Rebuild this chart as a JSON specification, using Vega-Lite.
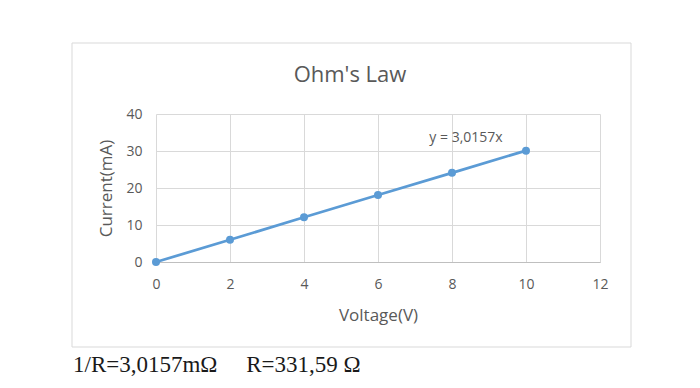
{
  "$schema": "https://vega.github.io/schema/vega-lite/v6.json",
  "width": 444,
  "height": 148,
  "autosize": "none",
  "padding": {"left": 156, "top": 114, "right": 100, "bottom": 126},
  "background": "white",
  "config": {"view": {"stroke": null}, "font": "Open Sans"},
  "title": {
    "text": "Ohm's Law",
    "font": "Open Sans",
    "fontSize": 22,
    "fontWeight": "normal",
    "color": "#595959",
    "anchor": "middle",
    "frame": "group",
    "dx": -28,
    "offset": -44
  },
  "layer": [
    {
      "data": {"values": [{"frame": "chart area"}]},
      "mark": {"type": "rect", "filled": false, "stroke": "#d9d9d9", "strokeWidth": 1, "clip": false},
      "encoding": {
        "x": {"value": -84},
        "x2": {"value": 475},
        "y": {"value": -71},
        "y2": {"value": 233}
      }
    },
    {
      "data": {
        "values": [
          {"voltage": 0, "current": 0},
          {"voltage": 2, "current": 6.0},
          {"voltage": 4, "current": 12.1},
          {"voltage": 6, "current": 18.1},
          {"voltage": 8, "current": 24.1},
          {"voltage": 10, "current": 30.1}
        ]
      },
      "mark": {
        "type": "line",
        "color": "#5b9bd5",
        "strokeWidth": 2.75,
        "point": {"filled": true, "size": 64, "color": "#5b9bd5"}
      },
      "encoding": {
        "x": {
          "field": "voltage",
          "type": "quantitative",
          "scale": {"domain": [0, 12], "nice": false},
          "axis": {
            "title": "Voltage(V)",
            "values": [0, 2, 4, 6, 8, 10, 12],
            "format": "d",
            "grid": true,
            "gridColor": "#d9d9d9",
            "domainColor": "#bfbfbf",
            "ticks": false,
            "labelFlush": false,
            "labelColor": "#595959",
            "labelFontSize": 14,
            "labelFont": "Open Sans",
            "labelPadding": 15,
            "titleColor": "#595959",
            "titleFontSize": 17,
            "titleFont": "Open Sans",
            "titleFontWeight": "normal",
            "titlePadding": 16
          }
        },
        "y": {
          "field": "current",
          "type": "quantitative",
          "scale": {"domain": [0, 40], "nice": false},
          "axis": {
            "title": "Current(mA)",
            "values": [0, 10, 20, 30, 40],
            "format": "d",
            "grid": true,
            "gridColor": "#d9d9d9",
            "domain": false,
            "ticks": false,
            "labelFlush": false,
            "labelColor": "#595959",
            "labelFontSize": 14,
            "labelFont": "Open Sans",
            "labelPadding": 14,
            "titleColor": "#595959",
            "titleFontSize": 17,
            "titleFont": "Open Sans",
            "titleFontWeight": "normal",
            "titlePadding": 10
          }
        }
      }
    },
    {
      "data": {"values": [{"label": "y = 3,0157x"}]},
      "mark": {"type": "text", "font": "Open Sans", "fontSize": 14, "color": "#595959", "align": "center", "baseline": "middle"},
      "encoding": {
        "text": {"field": "label"},
        "x": {"value": 310},
        "y": {"value": 24}
      }
    },
    {
      "data": {"values": [{"caption": "1/R=3,0157mΩ\u00a0\u00a0\u00a0\u00a0\u00a0R=331,59 Ω"}]},
      "mark": {"type": "text", "font": "Liberation Serif", "fontSize": 23, "color": "#1a1a1a", "align": "left", "baseline": "alphabetic", "clip": false},
      "encoding": {
        "text": {"field": "caption"},
        "x": {"value": -83},
        "y": {"value": 258}
      }
    }
  ]
}
